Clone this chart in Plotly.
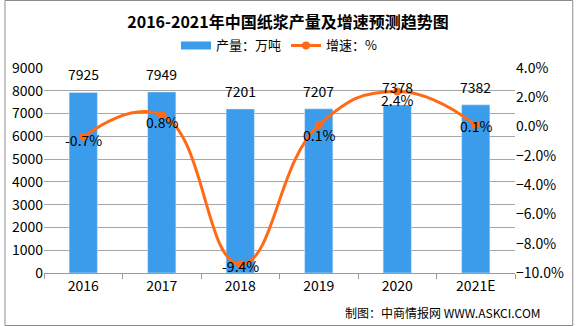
import plotly.graph_objects as go

years = ["2016", "2017", "2018", "2019", "2020", "2021E"]
output = [7925, 7949, 7201, 7207, 7378, 7382]
growth = [-0.7, 0.8, -9.4, 0.1, 2.4, 0.1]
growth_labels = ["-0.7%", "0.8%", "-9.4%", "0.1%", "2.4%", "0.1%"]
label_shift = [-3, -7, -2, -10, -9, -1]

FONT = "SimSun, Noto Sans CJK SC, sans-serif"
BLUE = "#3C9CEC"
ORANGE = "#FF6A17"

fig = go.Figure()
fig.add_trace(go.Bar(
    x=years, y=output, name="产量：万吨", marker_color=BLUE, width=0.36, showlegend=False,
))
# legend proxy with wide rectangle symbol
fig.add_trace(go.Scatter(
    x=[None], y=[None], name="产量：万吨", mode="lines",
    line=dict(color=BLUE, width=8),
))
fig.add_trace(go.Scatter(
    x=years, y=growth, name="增速：%", yaxis="y2", mode="lines+markers",
    line=dict(color=ORANGE, width=3, shape="spline", smoothing=1.3),
    marker=dict(size=8, color=ORANGE),
))
for i, v in enumerate(output):
    fig.add_annotation(x=i, y=v, xref="x", yref="y", text=str(v), showarrow=False,
                       yanchor="bottom", yshift=6,
                       font=dict(size=14, color="#000", family=FONT))
for i, (y, t, s) in enumerate(zip(growth, growth_labels, label_shift)):
    fig.add_annotation(x=i, y=y, xref="x", yref="y2", text=t, showarrow=False,
                       yshift=s, font=dict(size=14, color="#000", family=FONT))

fig.add_annotation(x=1.06, y=-0.195, xref="paper", yref="paper", xanchor="right", yanchor="middle",
                   text="制图：中商情报网 WWW.ASKCI.COM", showarrow=False,
                   font=dict(size=12, color="#000", family=FONT))

fig.update_layout(
    width=576, height=326,
    margin=dict(l=40, r=59, t=68, b=53),
    paper_bgcolor="white", plot_bgcolor="white",
    title=dict(text="<b>2016-2021年中国纸浆产量及增速预测趋势图</b>", x=0.5, xanchor="center",
               y=1 - 22 / 326, yanchor="middle", yref="container",
               font=dict(size=16, color="#000", family=FONT)),
    legend=dict(orientation="h", x=0.5, xanchor="center", y=1.11, yanchor="middle",
                font=dict(size=13, color="#000", family=FONT), bgcolor="rgba(0,0,0,0)",
                itemwidth=30, tracegroupgap=0),
    showlegend=True,
    xaxis=dict(type="category", range=[-0.5, 5.5], showgrid=False, showline=True,
               linecolor="#9A9A9A", linewidth=1,
               ticks="outside", tickson="boundaries", ticklen=5, tickcolor="#9A9A9A",
               tickfont=dict(size=14, color="#000", family=FONT)),
    yaxis=dict(range=[0, 9000], dtick=1000, showgrid=True, gridcolor="#A6A6A6", gridwidth=1,
               zeroline=False, showline=False, tickfont=dict(size=14, color="#000", family=FONT),
               ticks="", ticklen=6, tickcolor="rgba(0,0,0,0)"),
    yaxis2=dict(range=[-10, 4], dtick=2, overlaying="y", side="right", showgrid=False,
                zeroline=False, showline=False, tickformat=".1f", ticksuffix="%",
                tickfont=dict(size=14, color="#000", family=FONT), ticks="", ticklen=8,
                tickcolor="rgba(0,0,0,0)"),
    font=dict(family=FONT),
)

fig.add_shape(type="rect", xref="paper", yref="paper",
              x0=(0.5 - 40) / 477, x1=(575.5 - 40) / 477,
              y0=-(53 - 0.5) / 205, y1=1 + (68 - 0.5) / 205,
              line=dict(color="#8C8C8C", width=1), fillcolor="rgba(0,0,0,0)", layer="below")

fig.write_html("out.html")
